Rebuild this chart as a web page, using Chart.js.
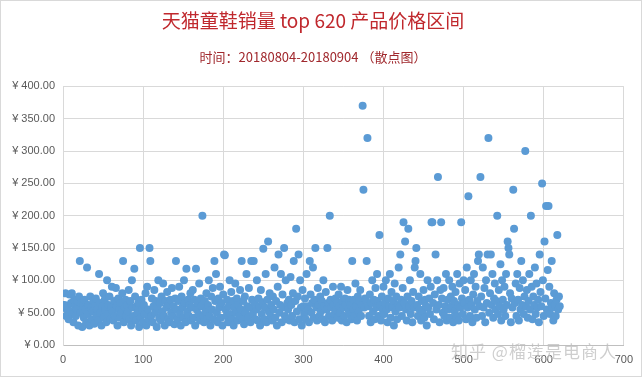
<!DOCTYPE html>
<html><head><meta charset="utf-8">
<script src="https://cdn.jsdelivr.net/npm/chart.js@4/dist/chart.umd.min.js"></script>
<style>
html,body{margin:0;padding:0;background:#fff;}
#wrap{position:relative;width:640px;height:375px;border:1px solid #d9d9d9;}
#wm{position:absolute;left:450px;top:337px;font-family:"Noto Sans CJK SC";font-size:17px;color:rgba(190,190,190,0.75);letter-spacing:1px;}
</style></head>
<body>
<div id="wrap"><canvas id="c" width="640" height="375"></canvas><div id="wm">知乎 @榴莲是电商人</div></div>
<script>
const titleText = "天猫童鞋销量 top 620 产品价格区间";
const subtitleText = "时间：20180804-20180904 （散点图）";
const xTicks = [0,100,200,300,400,500,600,700];
const yTicks = [0,50,100,150,200,250,300,350,400];
// prices of products ranked 1..620
const prices1 = [58,62,80,45,55,60,40,78,52,65,80,48,35,70,60,45,55,68,30,75,
130,50,65,28,60,42,70,55,35,120,48,62,30,75,58,40,52,68,33,60,
72,45,55,38,110,65,50,30,60,80,42,70,55,35,100,48,62,75,40,58,
90,52,38,68,45,88,60,30,72,55,42,65,50,80,130,35,58,70,45,62,
52,85,40,68,30,100,58,45,118,75,38,60,50,65,28,150,42,70,55,35];
const prices2 = [62,48,80,30,90,55,40,150,130,45,72,35,60,85,50,68,28,58,100,42,
65,38,75,52,95,45,30,68,58,82,40,62,35,70,50,88,45,60,32,72,
130,55,40,68,90,48,30,75,58,42,100,65,35,118,52,70,45,62,80,38,
58,85,42,70,30,118,55,65,48,95,38,72,60,200,45,35,68,52,80,40,
62,100,45,30,75,55,88,40,130,68,110,50,35,72,58,90,42,65,30,78];
const prices3 = [140,139,55,45,70,35,60,100,48,82,40,68,30,58,95,50,72,38,62,45,
85,55,130,40,68,32,75,50,110,60,42,88,58,35,130,70,48,130,65,40,
55,100,38,72,60,30,85,48,66,149,40,58,110,35,70,160,52,80,45,62,
38,75,55,120,42,68,30,90,140,50,62,110,35,78,58,150,45,100,40,65,
55,70,38,105,62,45,80,130,35,68,180,52,75,140,40,100,58,30,85,60];
const prices4 = [48,72,40,110,60,55,35,130,78,50,65,120,42,70,150,58,38,88,62,45,
75,52,68,40,100,60,35,82,55,150,65,45,200,70,58,38,90,62,48,72,
55,65,42,78,60,50,90,38,68,58,45,72,62,35,85,55,70,48,62,40,
130,55,70,45,95,60,38,75,52,68,85,45,62,370,240,58,72,70,130,320,
60,45,78,35,65,100,52,70,40,88,58,110,68,45,170,62,38,75,55,90];
const prices5 = [48,65,100,55,35,72,60,110,42,82,58,68,30,95,52,75,40,62,120,58,
140,70,45,88,190,65,160,55,38,75,180,60,100,48,68,35,82,58,120,130,
150,62,45,75,55,110,38,68,52,85,42,70,60,30,100,58,72,48,90,190,
190,65,40,78,140,55,100,260,62,35,85,190,72,50,88,45,60,110,38,70,
55,100,42,75,60,90,35,68,52,82,45,110,62,38,95,58,190,72,48,100];
const prices6 = [65,85,40,120,58,230,70,45,100,62,35,78,110,55,90,42,68,130,140,60,
260,75,45,120,58,88,35,100,65,140,320,50,80,140,62,110,42,72,95,55,
68,200,48,85,60,125,38,100,70,55,90,45,110,62,160,150,140,80,35,72,
58,240,180,65,95,45,110,70,38,88,55,130,62,100,48,75,300,60,85,42,
68,110,55,200,90,40,75,62,120,48,95,58,70,35,140,82,60,250,100,45];
const prices7 = [160,72,215,55,116,215,90,48,65,130,58,38,80,62,45,70,170,55,75,60];
const prices = [].concat(prices1,prices2,prices3,prices4,prices5,prices6,prices7);
const points = prices.map((p,i)=>({x:i+1,y:p}));

const tickFont = {family:"'Liberation Sans', 'Noto Sans'", size:11};
new Chart(document.getElementById('c'), {
  type:'scatter',
  data:{datasets:[{data:points,backgroundColor:'#5B9BD5',borderColor:'#5B9BD5',pointRadius:4,pointHoverRadius:4,borderWidth:0}]},
  options:{
    responsive:false, animation:false, devicePixelRatio:1,
    layout:{padding:{left:0,right:16,top:0,bottom:0}},
    plugins:{
      legend:{display:false}, tooltip:{enabled:false},
      title:{display:true,text:titleText,color:'#C0282D',font:{family:"'Noto Sans CJK SC'",size:19,weight:'normal',lineHeight:1.2},padding:{top:8,bottom:17}},
      subtitle:{display:true,text:subtitleText,color:'#A0282D',font:{family:"'Noto Sans CJK SC'",size:13,weight:'normal',lineHeight:1.2},padding:{top:0,bottom:22}}
    },
    scales:{
      x:{type:'linear',min:0,max:700,
        afterBuildTicks:(s)=>{s.ticks=xTicks.map(v=>({value:v}));},
        afterFit:(s)=>{s.height=31;},
        ticks:{color:'#595959',font:tickFont,padding:8},
        grid:{color:'#d9d9d9',drawTicks:false},border:{color:'#bfbfbf'}},
      y:{min:0,max:400,
        afterBuildTicks:(s)=>{s.ticks=yTicks.map(v=>({value:v}));},
        afterFit:(s)=>{s.width=62;},
        ticks:{color:'#595959',font:tickFont,padding:8,callback:(v)=>'¥ '+Number(v).toFixed(2)},
        grid:{color:'#d9d9d9',drawTicks:false},border:{color:'#d9d9d9'}}
    }
  }
});
</script>
</body></html>
